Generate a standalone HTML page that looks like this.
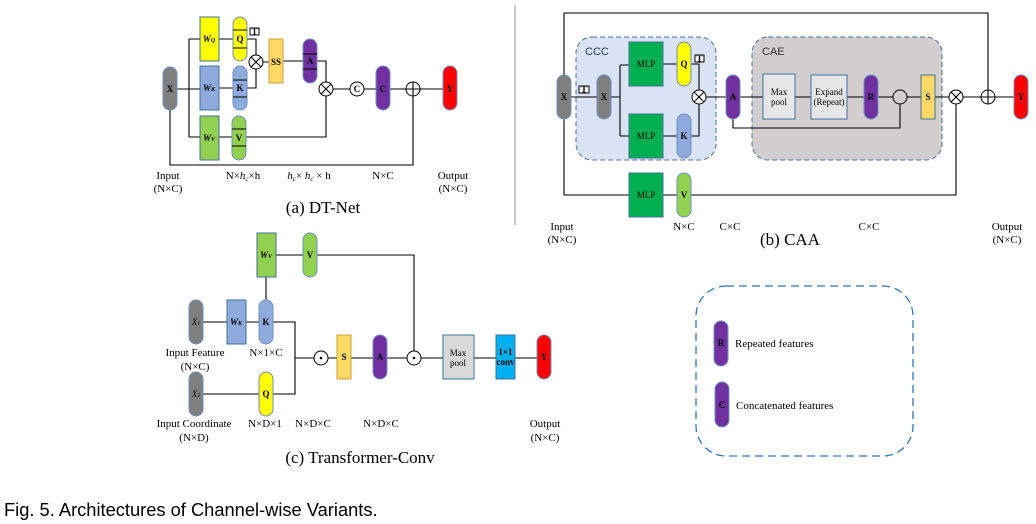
<!DOCTYPE html>
<html><head><meta charset="utf-8"><style>
html,body{margin:0;padding:0;background:#fff;width:1036px;height:524px;overflow:hidden}
svg{display:block}
.l{stroke:#000;stroke-width:1.1;fill:none}
.pt{font-family:"Liberation Serif",serif;font-weight:bold;font-size:9px;text-anchor:middle;dominant-baseline:central}
.n{font-weight:normal}
.t{font-family:"Liberation Serif",serif;font-size:11px;text-anchor:middle}
.cap{font-family:"Liberation Serif",serif;font-size:17px;text-anchor:middle}
.pill{stroke:#6f8fbf;stroke-width:1}
.rc{stroke:#41719c;stroke-width:1}
</style></head><body>
<svg width="1036" height="524" viewBox="0 0 1036 524" xmlns="http://www.w3.org/2000/svg">
<!-- ===== (a) DT-Net ===== -->
<g>
<path class="l" d="M177 89H200M189 39V137M189 39H200M189 137H200M219 39H233M219 88H233M219 137H232"/>
<path class="l" d="M247 39H256V55M247 88H256V69M263 62H269M283 61H303M317 61H326V82M246 137H326V96M333 89H350M364 89H376M390 89H406M420 89H443M170 110V165H413V96"/>
<rect x="163" y="67" width="14" height="43" rx="7" fill="#7f7f7f" class="pill"/><text class="pt" x="170" y="89">X</text>
<rect x="200" y="17" width="19" height="44" fill="#ffff00" class="rc"/><text class="pt" x="209" y="39" font-style="italic">W<tspan font-size="6" dy="2">Q</tspan></text>
<rect x="200" y="66" width="19" height="44" fill="#8faadc" class="rc"/><text class="pt" x="209" y="88" font-style="italic">W<tspan font-size="6" dy="2">K</tspan></text>
<rect x="200" y="116" width="19" height="44" fill="#92d050" class="rc"/><text class="pt" x="209" y="138" font-style="italic">W<tspan font-size="6" dy="2">V</tspan></text>
<rect x="233" y="17" width="14" height="44" rx="7" fill="#ffff00" class="pill"/><path class="l" d="M233 30H247M233 48H247"/><text class="pt" x="240" y="39">Q</text>
<rect x="233" y="66" width="14" height="44" rx="7" fill="#8faadc" class="pill"/><path class="l" d="M233 80H247M233 97H247"/><text class="pt" x="240" y="88">K</text>
<rect x="232" y="116" width="14" height="44" rx="7" fill="#92d050" class="pill"/><path class="l" d="M232 129H246M232 146H246"/><text class="pt" x="239" y="138">V</text>
<rect x="250" y="28" width="9" height="7" fill="#fff" stroke="#000"/><text class="pt" x="254.5" y="31.5" font-size="7">T</text>
<circle cx="256" cy="62" r="7" fill="#fff" stroke="#000"/><path class="l" d="M251 57L261 67M261 57L251 67"/>
<rect x="269" y="39" width="14" height="44" fill="#ffd966" stroke="#c9a23a"/><text class="pt" x="276" y="62">SS</text>
<rect x="303" y="39" width="14" height="44" rx="7" fill="#7030a0" class="pill"/><path class="l" d="M303 54H317M303 69H317"/><text class="pt" x="310" y="61">A</text>
<circle cx="326" cy="89" r="7" fill="#fff" stroke="#000"/><path class="l" d="M321 84L331 94M331 84L321 94"/>
<circle cx="357" cy="89" r="7" fill="#fff" stroke="#000"/><text class="pt" x="357" y="89" font-size="8">C</text>
<rect x="376" y="66" width="14" height="44" rx="7" fill="#7030a0" class="pill"/><text class="pt" x="383" y="89">C</text>
<circle cx="413" cy="89" r="7" fill="#fff" stroke="#000"/><path class="l" d="M406 89H420M413 82V96"/>
<rect x="443" y="66" width="14" height="44" rx="7" fill="#ff0000" class="pill"/><text class="pt" x="450" y="89">Y</text>
<text class="t" x="168" y="179">Input</text><text class="t" x="168" y="192">(N×C)</text>
<text class="t" x="243" y="179">N×<tspan font-style="italic">h<tspan font-size="7" dy="2">c</tspan></tspan><tspan dy="-2">×h</tspan></text>
<text class="t" x="309" y="179"><tspan font-style="italic">h<tspan font-size="7" dy="2">c</tspan></tspan><tspan dy="-2">× </tspan><tspan font-style="italic">h<tspan font-size="7" dy="2">c</tspan></tspan><tspan dy="-2"> × h</tspan></text>
<text class="t" x="383" y="179">N×C</text>
<text class="t" x="453" y="179">Output</text><text class="t" x="453" y="192">(N×C)</text>
<text class="cap" x="323" y="213">(a) DT-Net</text>
</g>
<line x1="515" y1="5" x2="515" y2="225" stroke="#999" stroke-width="1"/>
<!-- ===== (b) CAA ===== -->
<g>
<rect x="576" y="37" width="140" height="123" rx="16" fill="#dae3f3" stroke="#4f6fa0" stroke-dasharray="5,3"/>
<rect x="752" y="37" width="190" height="123" rx="16" fill="#d0cece" stroke="#4f6fa0" stroke-dasharray="5,3"/>
<text x="585" y="55" font-family="Liberation Sans,sans-serif" font-size="11" fill="#1f3864">CCC</text>
<text x="762" y="55" font-family="Liberation Sans,sans-serif" font-size="11" fill="#333">CAE</text>
<path class="l" d="M564 75V13H988V90M571 97H597M611 97H620M620 65V136M620 65H629M620 136H629M663 64H677M663 136H677M691 64H699V90M691 136H699V104M706 97H726M740 97H763M795 97H811M847 97H864M878 97H893M907 97H921M935 97H949M963 97H981M995 97H1014M733 119V128H900V104M564 119V195H629M663 195H677M691 195H956V104"/>
<rect x="557" y="75" width="14" height="44" rx="7" fill="#7f7f7f" class="pill"/><text class="pt" x="564" y="97">X</text>
<rect x="579" y="86" width="10" height="7" fill="#fff" stroke="#000"/><text class="pt" x="584" y="89.5" font-size="7">T</text>
<rect x="597" y="75" width="14" height="44" rx="7" fill="#7f7f7f" class="pill"/><text class="pt" x="604" y="97">X</text>
<rect x="629" y="42" width="34" height="44" fill="#00b050" stroke="#41719c"/><text class="pt n" x="646" y="64" font-size="8">MLP</text>
<rect x="629" y="114" width="34" height="44" fill="#00b050" stroke="#41719c"/><text class="pt n" x="646" y="136" font-size="8">MLP</text>
<rect x="677" y="42" width="14" height="44" rx="7" fill="#ffff00" class="pill"/><text class="pt" x="684" y="64">Q</text>
<rect x="695" y="55" width="9" height="7" fill="#fff" stroke="#000"/><text class="pt" x="699.5" y="58.5" font-size="7">T</text>
<rect x="677" y="114" width="14" height="44" rx="7" fill="#8faadc" class="pill"/><text class="pt" x="684" y="136">K</text>
<circle cx="699" cy="97" r="7" fill="#fff" stroke="#000"/><path class="l" d="M694 92L704 102M704 92L694 102"/>
<rect x="726" y="75" width="14" height="44" rx="7" fill="#7030a0" class="pill"/><text class="pt" x="733" y="97">A</text>
<rect x="763" y="74" width="32" height="45" fill="#e7e6e6" stroke="#41719c"/><text class="pt n" x="779" y="92" font-size="8">Max</text><text class="pt n" x="779" y="102" font-size="8">pool</text>
<rect x="811" y="75" width="36" height="44" fill="#e7e6e6" stroke="#41719c"/><text class="pt n" x="829" y="92" font-size="7.5">Expand</text><text class="pt n" x="829" y="102" font-size="7.5">(Repeat)</text>
<rect x="864" y="75" width="14" height="44" rx="7" fill="#7030a0" class="pill"/><text class="pt" x="871" y="97">R</text>
<circle cx="900" cy="97" r="7" fill="#d0cece" stroke="#000"/>
<rect x="921" y="75" width="14" height="44" fill="#ffd966" stroke="#41719c"/><text class="pt" x="928" y="97">S</text>
<circle cx="956" cy="97" r="7" fill="#fff" stroke="#000"/><path class="l" d="M951 92L961 102M961 92L951 102"/>
<circle cx="988" cy="97" r="7" fill="#fff" stroke="#000"/><path class="l" d="M981 97H995M988 90V104"/>
<rect x="1014" y="75" width="14" height="44" rx="7" fill="#ff0000" class="pill"/><text class="pt" x="1021" y="97">Y</text>
<rect x="629" y="173" width="34" height="44" fill="#00b050" stroke="#41719c"/><text class="pt n" x="646" y="195" font-size="8">MLP</text>
<rect x="677" y="173" width="14" height="44" rx="7" fill="#92d050" class="pill"/><text class="pt" x="684" y="195">V</text>
<text class="t" x="562" y="230">Input</text><text class="t" x="562" y="243">(N×C)</text>
<text class="t" x="684" y="230">N×C</text>
<text class="t" x="730" y="230">C×C</text>
<text class="t" x="869" y="230">C×C</text>
<text class="t" x="1007" y="230">Output</text><text class="t" x="1007" y="243">(N×C)</text>
<text class="cap" x="790" y="245">(b) CAA</text>
</g>
<!-- ===== (c) Transformer-Conv ===== -->
<g>
<path class="l" d="M276 255H303M317 255H414V351M266 277V300M203 322H227M246 322H259M273 322H295V394H273M203 394H259M295 358H314M328 358H337M351 358H373M387 358H407M421 358H443M474 358H496M515 358H537"/>
<rect x="257" y="233" width="19" height="44" fill="#92d050" class="rc"/><text class="pt" x="266" y="255" font-style="italic">W<tspan font-size="6" dy="2">V</tspan></text>
<rect x="303" y="233" width="14" height="44" rx="7" fill="#92d050" class="pill"/><text class="pt" x="310" y="255">V</text>
<rect x="189" y="300" width="14" height="44" rx="7" fill="#7f7f7f" class="pill"/><text class="pt n" x="196" y="322" font-style="italic">X<tspan font-size="6" dy="2">1</tspan></text>
<rect x="227" y="300" width="19" height="44" fill="#8faadc" class="rc"/><text class="pt" x="236" y="322" font-style="italic">W<tspan font-size="6" dy="2">K</tspan></text>
<rect x="259" y="300" width="14" height="44" rx="7" fill="#8faadc" class="pill"/><text class="pt" x="266" y="322">K</text>
<rect x="189" y="372" width="14" height="44" rx="7" fill="#7f7f7f" class="pill"/><text class="pt n" x="196" y="394" font-style="italic">X<tspan font-size="6" dy="2">2</tspan></text>
<rect x="259" y="372" width="14" height="44" rx="7" fill="#ffff00" class="pill"/><text class="pt" x="266" y="394">Q</text>
<circle cx="321" cy="358" r="7" fill="#fff" stroke="#000"/><circle cx="321" cy="358" r="1.3" fill="#000"/>
<rect x="337" y="335" width="14" height="44" fill="#ffd966" stroke="#c9a23a"/><text class="pt" x="344" y="357">S</text>
<rect x="373" y="335" width="14" height="44" rx="7" fill="#7030a0" class="pill"/><text class="pt" x="380" y="357">A</text>
<circle cx="414" cy="358" r="7" fill="#fff" stroke="#000"/><circle cx="414" cy="358" r="1.3" fill="#000"/>
<rect x="443" y="335" width="31" height="44" fill="#d9d9d9" stroke="#41719c"/><text class="pt n" x="458" y="353" font-size="8">Max</text><text class="pt n" x="458" y="363" font-size="8">pool</text>
<rect x="496" y="335" width="19" height="44" fill="#00b0f0" stroke="#41719c"/><text class="pt" x="505.5" y="352" font-size="8">1×1</text><text class="pt" x="505.5" y="362" font-size="6">conv</text>
<rect x="537" y="335" width="14" height="44" rx="7" fill="#ff0000" class="pill"/><text class="pt" x="544" y="357">Y</text>
<text class="t" x="195" y="356">Input Feature</text><text class="t" x="195" y="370">(N×C)</text>
<text class="t" x="266" y="356">N×1×C</text>
<text class="t" x="194" y="427">Input Coordinate</text><text class="t" x="194" y="441">(N×D)</text>
<text class="t" x="265" y="427">N×D×1</text>
<text class="t" x="313" y="427">N×D×C</text>
<text class="t" x="381" y="427">N×D×C</text>
<text class="t" x="545" y="427">Output</text><text class="t" x="545" y="441">(N×C)</text>
<text class="cap" x="360" y="463">(c) Transformer-Conv</text>
</g>
<!-- Legend -->
<rect x="696" y="286" width="217" height="170" rx="30" fill="none" stroke="#2e75b6" stroke-width="1.3" stroke-dasharray="8,5"/>
<rect x="714" y="321" width="14" height="45" rx="7" fill="#7030a0" class="pill"/><text class="pt" x="721" y="343">R</text>
<text x="735" y="347" font-family="Liberation Serif,serif" font-size="11">Repeated features</text>
<rect x="715" y="382" width="14" height="45" rx="7" fill="#7030a0" class="pill"/><text class="pt" x="722" y="405">C</text>
<text x="736" y="409" font-family="Liberation Serif,serif" font-size="11">Concatenated features</text>
<!-- Caption -->
<text x="4" y="516" font-family="Liberation Sans,sans-serif" font-size="18.3">Fig. 5. Architectures of Channel-wise Variants.</text>
</svg>
</body></html>
